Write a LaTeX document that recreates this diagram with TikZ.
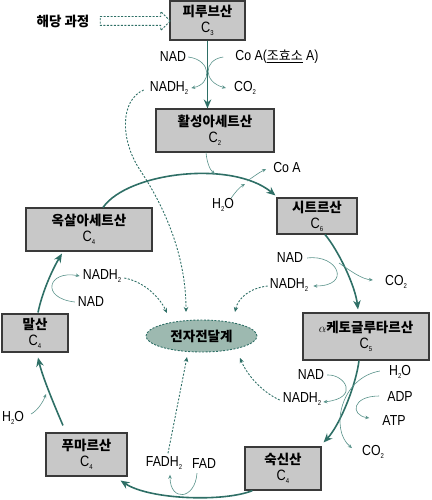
\documentclass[tikz,border=0pt]{standalone}
\usepackage{fontspec}
\setmainfont{Liberation Sans}[FakeStretch=0.85]
\newfontfamily\kr{Noto Sans CJK KR}
\usetikzlibrary{arrows.meta,shapes.geometric,shapes.arrows,calc}
\definecolor{tealdk}{HTML}{2E6F66}
\definecolor{teallt}{HTML}{5A938B}
\definecolor{boxfill}{HTML}{C8C8C8}
\definecolor{boxline}{HTML}{3A3A3A}
\definecolor{ellfill}{HTML}{9DB9B0}
\newcommand{\subn}[1]{\raisebox{-0.4ex}{\fontsize{7}{7}\selectfont #1}}
\newcommand{\knm}[1]{{\kr\bfseries\fontsize{13.5}{13.5}\selectfont #1}}
\tikzset{
  box/.style={draw=boxline, fill=boxfill, line width=1.1pt, align=center, inner sep=0pt, font=\fontsize{15}{16}\selectfont},
  lab/.style={inner sep=0pt, font=\fontsize{14.5}{14.5}\selectfont},
  mainarr/.style={draw=tealdk, line width=1.6pt, -{Stealth[length=9pt,width=7.5pt]}},
  thinarr/.style={draw=teallt, line width=0.6pt, -{Stealth[length=4pt,width=3.5pt]}},
  dsharr/.style={draw=tealdk, line width=0.9pt, dash pattern=on 2pt off 1.6pt, -{Stealth[length=5pt,width=4.5pt]}},
  hollow/.style={single arrow, draw=tealdk, fill=white, line width=0.9pt, dash pattern=on 2pt off 1.5pt, minimum height=70pt, inner xsep=0pt, inner ysep=4pt, single arrow head extend=5pt},
}
\begin{document}
\begin{tikzpicture}[x=1pt,y=-1pt]
\useasboundingbox (0,0) rectangle (431,500);
% boxes
\node[box, minimum width=75pt, minimum height=39pt] (pyr) at (207.5,20.5) {\knm{피루브산}\\C\subn{3}};
\node[box, minimum width=118pt, minimum height=43pt] (acet) at (215,130.5) {\knm{활성아세트산}\\C\subn{2}};
\node[box, minimum width=80pt, minimum height=36pt] (cit) at (317,216) {\knm{시트르산}\\C\subn{6}};
\node[box, minimum width=126pt, minimum height=47pt] (akg) at (366,336.5) {{\fontsize{12}{12}\selectfont$\alpha$}\knm{케토글루타르산}\\C\subn{5}};
\node[box, minimum width=76pt, minimum height=43pt] (suc) at (283,468.5) {\knm{숙신산}\\C\subn{4}};
\node[box, minimum width=81pt, minimum height=43pt] (fum) at (86.5,454.5) {\knm{푸마르산}\\C\subn{4}};
\node[box, minimum width=66pt, minimum height=38pt] (mal) at (35,333) {\knm{말산}\\C\subn{4}};
\node[box, minimum width=126pt, minimum height=43pt] (oxa) at (89,229.5) {\knm{옥살아세트산}\\C\subn{4}};
\node[ellipse, draw=tealdk, fill=ellfill, dash pattern=on 2pt off 1.5pt, line width=0.9pt, minimum width=111pt, minimum height=32pt, inner sep=0pt, font=\kr\bfseries\fontsize{13.5}{13.5}\selectfont] (etc) at (201.5,336) {전자전달계};
% labels
\node[lab, font=\kr\bfseries\fontsize{13.5}{13.5}\selectfont] (haedang) at (63,21) {해당 과정};
\node[hollow] (ha) at (133,21) {};
\node[lab] (nadA) at (173,57) {NAD};
\node[lab] (coaA) at (277,57) {Co A(\underline{{\kr\fontsize{13}{13}\selectfont 조효소}} A)};
\node[lab] (nadhA) at (169,88) {NADH\subn{2}};
\node[lab] (co2A) at (245,88) {CO\subn{2}};
\node[lab] (coaB) at (287,168) {Co A};
\node[lab] (h2oA) at (223,205) {H\subn{2}O};
\node[lab] (nadB) at (290,258) {NAD};
\node[lab] (nadhB) at (289,285) {NADH\subn{2}};
\node[lab] (co2B) at (396,282) {CO\subn{2}};
\node[lab] (nadC) at (311,375) {NAD};
\node[lab] (h2oC) at (400,372) {H\subn{2}O};
\node[lab] (nadhC) at (302,399) {NADH\subn{2}};
\node[lab] (adpC) at (400,397) {ADP};
\node[lab] (atpC) at (394,421) {ATP};
\node[lab] (co2C) at (373,452) {CO\subn{2}};
\node[lab] (fadh) at (164,463) {FADH\subn{2}};
\node[lab] (fad) at (204,464) {FAD};
\node[lab] (h2oD) at (13,418) {H\subn{2}O};
\node[lab] (nadhD) at (102,276) {NADH\subn{2}};
\node[lab] (nadD) at (91,302) {NAD};
% junction coordinates on main arcs
\coordinate (j1) at (215,174);
\coordinate (j2) at (245,184);
\coordinate (j3) at (247,181);
\coordinate (j4) at (339,263);
\coordinate (j5) at (46,394);
% main cycle
\draw[mainarr] (pyr.south) -- (pyr.south |- acet.north);
\draw[mainarr] ($(oxa.north)+(14,0)$) .. controls (128,172) and (232,160) .. ($(cit.north west)+(-1,-2)$);
\draw[mainarr] ($(cit.south)+(8,0)$) .. controls (338,250) and (355,285) .. ($(akg.north)+(-8,-3)$);
\draw[mainarr] ($(akg.south)+(-7,0)$) .. controls (356,385) and (340,425) .. ($(suc.north east)+(2,-4)$);
\draw[mainarr] ($(suc.south west)+(8,0)$) .. controls (225,502) and (150,500) .. ($(fum.south east)+(-7,4)$);
\draw[mainarr] ($(fum.north)+(-23.5,-7)$) .. controls (52,400) and (42,375) .. ($(mal.south)+(3,5)$);
\draw[mainarr] ($(mal.north)+(3,-1)$) .. controls (42,293) and (52,270) .. ($(oxa.south)+(-27,2)$);
% side reactions
\draw[thinarr] ($(nadA.east)+(2,0)$) .. controls (212,60) and (212,84) .. ($(nadhA.east)+(3,0)$);
\draw[thinarr] ($(coaA.west)+(-12,0)$) .. controls (203,60) and (203,82) .. ($(co2A.west)+(-8,0)$);
\draw[thinarr] ($(acet.south)+(-9,0)$) .. controls (207,163) and (210,170) .. (j1);
\draw[thinarr] ($(h2oA.north east)+(-3,0)$) .. controls (236,191) and (240,187) .. (j2);
\draw[thinarr] (j3) .. controls (252,178) and (258,173) .. ($(coaB.west)+(-7,1)$);
\draw[thinarr] ($(nadB.east)+(4,0)$) .. controls (338,254) and (352,286) .. ($(nadhB.east)+(5,1)$);
\draw[thinarr] (j4) .. controls (352,272) and (362,279) .. ($(co2B.west)+(-12,-2)$);
\draw[thinarr] ($(nadC.east)+(3,0)$) .. controls (345,374) and (360,398) .. ($(nadhC.east)+(2,3)$);
\draw[thinarr] ($(h2oC.west)+(-9,-1)$) .. controls (340,378) and (330,430) .. ($(co2C.west)+(-10,-4)$);
\draw[thinarr] ($(adpC.west)+(-8,-1)$) .. controls (352,396) and (350,415) .. ($(atpC.west)+(-13,-3)$);
\draw[thinarr] ($(fad.south)+(-7,4)$) .. controls (195,500) and (170,502) .. ($(fadh.south)+(6,5)$);
\draw[thinarr] ($(h2oD.east)+(7,-4)$) .. controls (38,410) and (43,402) .. (j5);
\draw[thinarr] ($(nadD.west)+(-3,0)$) .. controls (40,298) and (48,270) .. ($(nadhD.west)+(-3,0)$);
% to electron transport
\draw[dsharr] ($(nadhA.west)+(-6,2)$) .. controls (120,100) and (120,140) .. (140,170) .. controls (160,200) and (186,250) .. ($(etc.center)+(-15.5,-24)$);
\draw[dsharr] ($(nadhD.east)+(3,2)$) .. controls (145,282) and (160,298) .. ($(etc.center)+(-34.5,-23)$);
\draw[dsharr] ($(nadhB.west)+(-2,1)$) .. controls (250,288) and (238,298) .. ($(etc.center)+(33.5,-24)$);
\draw[dsharr] ($(nadhC.west)+(-3,1)$) .. controls (262,392) and (247,375) .. ($(etc.center)+(38.5,22)$);
\draw[dsharr] ($(fadh.north)+(4,-3)$) -- ($(etc.center)+(-14.5,21)$);
\end{tikzpicture}
\end{document}
